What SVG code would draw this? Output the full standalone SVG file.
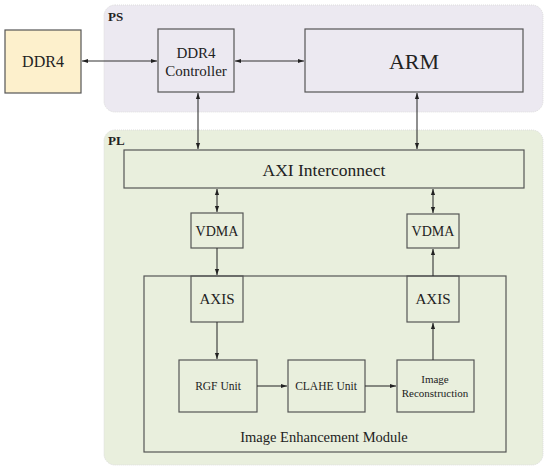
<svg xmlns="http://www.w3.org/2000/svg" width="550" height="473" viewBox="0 0 550 473">
<defs>
<style>
.box{fill:none;stroke:#555;stroke-width:1.2}
.t{fill:#222;text-anchor:middle}
.lbl{font-weight:bold;fill:#222;font-size:13px}
.c{stroke:#333;stroke-width:1.1;fill:none}
</style>
<marker id="ah" viewBox="0 0 10 10" refX="10" refY="5" markerWidth="6" markerHeight="6" orient="auto-start-reverse" markerUnits="userSpaceOnUse">
<path d="M0,1.5 L10,5 L0,8.5 z" fill="#222"/>
</marker>
</defs>
<rect width="550" height="473" fill="#fff"/>
<g font-family="Liberation Serif, Times New Roman, serif">
<g id="PS">
<rect x="104" y="5" width="439" height="107" rx="11" fill="#ece9f1" stroke="#ddd" stroke-dasharray="1 1"/>
<text class="lbl" x="108" y="21">PS</text>
</g>
<g id="PL">
<rect x="104" y="130" width="439" height="335" rx="11" fill="#e9efdd" stroke="#ddd" stroke-dasharray="1 1"/>
<text class="lbl" x="108" y="145">PL</text>
</g>
<g id="ddr4">
<rect x="5" y="30" width="76" height="63" fill="#fdf0cc" stroke="#555" stroke-width="1.2"/>
<text class="t" x="43" y="67" font-size="16">DDR4</text>
</g>
<g id="ddr4ctrl">
<rect class="box" x="158" y="29" width="76" height="63"/>
<text class="t" x="196" y="58" font-size="15">DDR4</text>
<text class="t" x="196" y="76" font-size="15">Controller</text>
</g>
<g id="arm">
<rect class="box" x="305" y="29" width="218" height="63"/>
<text class="t" x="414" y="69" font-size="22">ARM</text>
</g>
<g id="axi">
<rect class="box" x="124" y="150" width="400" height="38"/>
<text class="t" x="324" y="176" font-size="17.5">AXI Interconnect</text>
</g>
<g id="vdma1">
<rect class="box" x="191" y="213" width="52" height="35"/>
<text class="t" x="217" y="236" font-size="14">VDMA</text>
</g>
<g id="vdma2">
<rect class="box" x="407" y="214" width="52" height="34"/>
<text class="t" x="433" y="236" font-size="14">VDMA</text>
</g>
<g id="iem">
<rect class="box" x="144" y="276" width="362" height="176"/>
<text class="t" x="324" y="442" font-size="14.5">Image Enhancement Module</text>
</g>
<g id="axis1">
<rect class="box" x="191" y="276" width="52" height="46"/>
<text class="t" x="217" y="304" font-size="15">AXIS</text>
</g>
<g id="axis2">
<rect class="box" x="407" y="276" width="52" height="46"/>
<text class="t" x="433" y="304" font-size="15">AXIS</text>
</g>
<g id="rgf">
<rect class="box" x="179" y="360" width="78" height="52"/>
<text class="t" x="218" y="390" font-size="11.5">RGF Unit</text>
</g>
<g id="clahe">
<rect class="box" x="288" y="360" width="77" height="52"/>
<text class="t" x="326" y="390" font-size="11.5">CLAHE Unit</text>
</g>
<g id="recon">
<rect class="box" x="397" y="360" width="77" height="52"/>
<text class="t" x="435" y="383" font-size="11">Image</text>
<text class="t" x="435" y="397" font-size="11">Reconstruction</text>
</g>
</g>
<g id="connectors">
<line class="c" x1="82" y1="61" x2="157" y2="61" marker-start="url(#ah)" marker-end="url(#ah)"/>
<line class="c" x1="235" y1="61" x2="304" y2="61" marker-start="url(#ah)" marker-end="url(#ah)"/>
<line class="c" x1="198" y1="93" x2="198" y2="149" marker-start="url(#ah)" marker-end="url(#ah)"/>
<line class="c" x1="417" y1="93" x2="417" y2="149" marker-start="url(#ah)" marker-end="url(#ah)"/>
<line class="c" x1="217" y1="189" x2="217" y2="212" marker-start="url(#ah)" marker-end="url(#ah)"/>
<line class="c" x1="433" y1="189" x2="433" y2="213" marker-start="url(#ah)" marker-end="url(#ah)"/>
<line class="c" x1="217" y1="248" x2="217" y2="275" marker-end="url(#ah)"/>
<line class="c" x1="433" y1="276" x2="433" y2="249" marker-end="url(#ah)"/>
<line class="c" x1="217" y1="322" x2="217" y2="359" marker-end="url(#ah)"/>
<line class="c" x1="257" y1="386" x2="287" y2="386" marker-end="url(#ah)"/>
<line class="c" x1="365" y1="386" x2="396" y2="386" marker-end="url(#ah)"/>
<line class="c" x1="433" y1="360" x2="433" y2="323" marker-end="url(#ah)"/>
</g>
</svg>
